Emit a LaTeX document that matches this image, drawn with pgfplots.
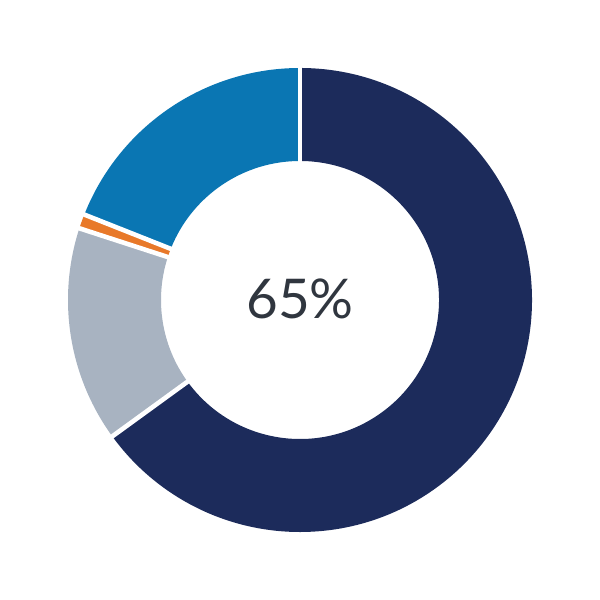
\documentclass[border=0pt]{standalone}
\usepackage{pgfplots}
\usepackage{pgfplotstable}
\usepackage{fontspec}
\setmainfont{Lato}
\pgfplotsset{compat=1.18}
\definecolor{cnavy}{HTML}{1C2B5B}
\definecolor{cgray}{HTML}{A8B3C1}
\definecolor{corange}{HTML}{E8792A}
\definecolor{cblue}{HTML}{0A76B3}
\definecolor{ctext}{HTML}{30363F}
\pgfplotstableread{
label value
Navy 65
Gray 15
Orange 1
Blue 19
}\donutdata
\newcommand\donutwedge[3]{%
  \fill[#3] (axis cs:300,300) ++(#1:116bp) arc[start angle=#1,end angle=#2,radius=116bp]
    -- ++(#2:-46.5bp) arc[start angle=#2,end angle=#1,radius=69.5bp] -- cycle;}
\newcommand\donutgap[1]{%
  \draw[white,line width=2.3bp] (axis cs:300,300) ++(#1:60bp) -- ++(#1:62bp);}
\begin{document}
\begin{tikzpicture}
\pgfplotstablegetelem{0}{value}\of\donutdata\let\vA\pgfplotsretval
\pgfplotstablegetelem{1}{value}\of\donutdata\let\vB\pgfplotsretval
\pgfplotstablegetelem{2}{value}\of\donutdata\let\vC\pgfplotsretval
\pgfplotstablegetelem{3}{value}\of\donutdata\let\vD\pgfplotsretval
\pgfmathsetmacro\aO{90}
\pgfmathsetmacro\aA{90-3.6*\vA}
\pgfmathsetmacro\aB{\aA-3.6*\vB}
\pgfmathsetmacro\aC{\aB-3.6*\vC}
\pgfmathsetmacro\aD{\aC-3.6*\vD}
\begin{axis}[hide axis, scale only axis, width=300bp, height=300bp,
  xmin=0, xmax=600, ymin=0, ymax=600, clip=false]
\path (axis cs:0,0) rectangle (axis cs:600,600);
\donutwedge{\aO}{\aA}{cnavy}
\donutwedge{\aA}{\aB}{cgray}
\donutwedge{\aB}{\aC}{corange}
\donutwedge{\aC}{\aD}{cblue}
\donutgap{\aO}
\donutgap{\aA}
\donutgap{\aB}
\donutgap{\aC}
\node[text=ctext, font=\fontsize{27.5}{30}\selectfont, inner sep=0pt] at (axis cs:300,301) {65\%};
\end{axis}
\end{tikzpicture}
\end{document}
